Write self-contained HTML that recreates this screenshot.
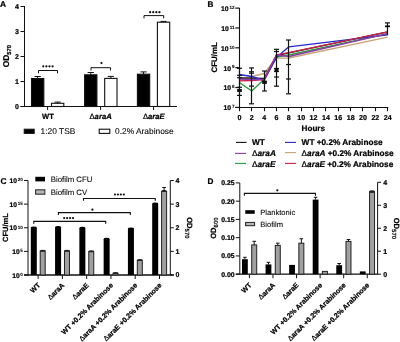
<!DOCTYPE html>
<html><head><meta charset="utf-8"><style>
html,body{margin:0;padding:0;background:#fff;}
svg{display:block;font-family:"Liberation Sans", sans-serif;-webkit-font-smoothing:antialiased;opacity:0.999;will-change:transform;}
text{text-rendering:geometricPrecision;stroke:#000;stroke-width:0.22px;}
text[font-weight="normal"]{stroke-width:0.08px;}
</style></head><body>
<svg width="400" height="342" viewBox="0 0 400 342" font-family='"Liberation Sans", sans-serif' fill="#000">
<rect width="400" height="342" fill="#fff"/>
<text x="0" y="7.2" font-size="8.4" font-weight="bold" font-style="normal" text-anchor="start" >A</text>
<line x1="24.5" y1="6" x2="24.5" y2="107.0" stroke="#111" stroke-width="1"/>
<line x1="20.5" y1="106.5" x2="24.5" y2="106.5" stroke="#111" stroke-width="1"/>
<text x="18.9" y="109.0" font-size="7" font-weight="bold" font-style="normal" text-anchor="end" >0</text>
<line x1="20.5" y1="81.5" x2="24.5" y2="81.5" stroke="#111" stroke-width="1"/>
<text x="18.9" y="84.0" font-size="7" font-weight="bold" font-style="normal" text-anchor="end" >1</text>
<line x1="20.5" y1="56.5" x2="24.5" y2="56.5" stroke="#111" stroke-width="1"/>
<text x="18.9" y="59.0" font-size="7" font-weight="bold" font-style="normal" text-anchor="end" >2</text>
<line x1="20.5" y1="31.5" x2="24.5" y2="31.5" stroke="#111" stroke-width="1"/>
<text x="18.9" y="34.0" font-size="7" font-weight="bold" font-style="normal" text-anchor="end" >3</text>
<line x1="20.5" y1="6.5" x2="24.5" y2="6.5" stroke="#111" stroke-width="1"/>
<text x="18.9" y="9.0" font-size="7" font-weight="bold" font-style="normal" text-anchor="end" >4</text>
<line x1="20.5" y1="106.5" x2="177" y2="106.5" stroke="#111" stroke-width="1"/>
<line x1="47.6" y1="106.5" x2="47.6" y2="110.0" stroke="#111" stroke-width="1"/>
<line x1="100.6" y1="106.5" x2="100.6" y2="110.0" stroke="#111" stroke-width="1"/>
<line x1="153.6" y1="106.5" x2="153.6" y2="110.0" stroke="#111" stroke-width="1"/>
<rect x="31.5" y="78.5" width="12.3" height="28.0" fill="#000" stroke="#111" stroke-width="1.1"/>
<line x1="37.65" y1="76.5" x2="37.65" y2="78.5" stroke="#111" stroke-width="1"/>
<line x1="34.55" y1="76.5" x2="40.75" y2="76.5" stroke="#111" stroke-width="1"/>
<rect x="51.5" y="103.3" width="12.3" height="3.200000000000003" fill="#fff" stroke="#111" stroke-width="1.1"/>
<line x1="57.65" y1="102.1" x2="57.65" y2="103.3" stroke="#111" stroke-width="1"/>
<line x1="54.55" y1="102.1" x2="60.75" y2="102.1" stroke="#111" stroke-width="1"/>
<rect x="84.6" y="74.8" width="12.3" height="31.700000000000003" fill="#000" stroke="#111" stroke-width="1.1"/>
<line x1="90.75" y1="72.5" x2="90.75" y2="74.8" stroke="#111" stroke-width="1"/>
<line x1="87.65" y1="72.5" x2="93.85" y2="72.5" stroke="#111" stroke-width="1"/>
<rect x="104.7" y="78.4" width="12.3" height="28.099999999999994" fill="#fff" stroke="#111" stroke-width="1.1"/>
<line x1="110.85000000000001" y1="76.4" x2="110.85000000000001" y2="78.4" stroke="#111" stroke-width="1"/>
<line x1="107.75000000000001" y1="76.4" x2="113.95" y2="76.4" stroke="#111" stroke-width="1"/>
<rect x="137.4" y="74.2" width="12.3" height="32.3" fill="#000" stroke="#111" stroke-width="1.1"/>
<line x1="143.55" y1="71.9" x2="143.55" y2="74.2" stroke="#111" stroke-width="1"/>
<line x1="140.45000000000002" y1="71.9" x2="146.65" y2="71.9" stroke="#111" stroke-width="1"/>
<rect x="157.4" y="22.2" width="12.3" height="84.3" fill="#fff" stroke="#111" stroke-width="1.1"/>
<line x1="163.55" y1="21.4" x2="163.55" y2="22.2" stroke="#111" stroke-width="1"/>
<line x1="160.45000000000002" y1="21.4" x2="166.65" y2="21.4" stroke="#111" stroke-width="1"/>
<polyline points="38.5,73.3 38.5,70.5 57.5,70.5 57.5,73.3" fill="none" stroke="#111" stroke-width="1"/>
<polyline points="91.0,70.5 91.0,67.7 110.5,67.7 110.5,70.5" fill="none" stroke="#111" stroke-width="1"/>
<polyline points="144.0,18.4 144.0,15.6 163.7,15.6 163.7,18.4" fill="none" stroke="#111" stroke-width="1"/>
<circle cx="43.30" cy="66.3" r="1.12" fill="#111"/>
<circle cx="46.40" cy="66.3" r="1.12" fill="#111"/>
<circle cx="49.50" cy="66.3" r="1.12" fill="#111"/>
<circle cx="52.60" cy="66.3" r="1.12" fill="#111"/>
<circle cx="101.50" cy="63.1" r="1.12" fill="#111"/>
<circle cx="150.15" cy="12.2" r="1.12" fill="#111"/>
<circle cx="153.25" cy="12.2" r="1.12" fill="#111"/>
<circle cx="156.35" cy="12.2" r="1.12" fill="#111"/>
<circle cx="159.45" cy="12.2" r="1.12" fill="#111"/>
<text x="47.9" y="119.1" font-size="7.5" font-weight="bold" font-style="normal" text-anchor="middle" >WT</text>
<text x="100.6" y="119.4" font-size="7.7" font-weight="bold" font-style="normal" text-anchor="middle" ><tspan font-weight="normal">&#916;</tspan><tspan font-style="italic">araA</tspan></text>
<text x="153.8" y="119.4" font-size="7.7" font-weight="bold" font-style="normal" text-anchor="middle" ><tspan font-weight="normal">&#916;</tspan><tspan font-style="italic">araE</tspan></text>
<text transform="translate(8.6,67.2) rotate(-90)" font-size="8.4" font-weight="bold">OD<tspan font-size="5.8" dy="2.2">570</tspan></text>
<rect x="24.2" y="129.2" width="10" height="4.2" fill="#000" stroke="#111" stroke-width="1"/>
<text x="40.6" y="134.4" font-size="8.4" font-weight="normal" font-style="normal" text-anchor="start" >1:20 TSB</text>
<rect x="99.2" y="129.2" width="10.6" height="4.2" fill="#fff" stroke="#111" stroke-width="1.1"/>
<text x="115.0" y="134.4" font-size="8.4" font-weight="normal" font-style="normal" text-anchor="start" >0.2% Arabinose</text>
<text x="207.5" y="7.1" font-size="8.2" font-weight="bold" font-style="normal" text-anchor="start" >B</text>
<line x1="239.5" y1="8" x2="239.5" y2="108.0" stroke="#111" stroke-width="1.1"/>
<line x1="235.3" y1="107.4" x2="239.5" y2="107.4" stroke="#111" stroke-width="1.2"/>
<text x="234.6" y="110.30" font-size="6.8" font-weight="bold" text-anchor="end">10<tspan font-size="4.6" dx="0.9" dy="-2.1" stroke-width="0.05">7</tspan></text>
<line x1="235.3" y1="87.54" x2="239.5" y2="87.54" stroke="#111" stroke-width="1.2"/>
<text x="234.6" y="90.44" font-size="6.8" font-weight="bold" text-anchor="end">10<tspan font-size="4.6" dx="0.9" dy="-2.1" stroke-width="0.05">8</tspan></text>
<line x1="235.3" y1="67.68" x2="239.5" y2="67.68" stroke="#111" stroke-width="1.2"/>
<text x="234.6" y="70.58" font-size="6.8" font-weight="bold" text-anchor="end">10<tspan font-size="4.6" dx="0.9" dy="-2.1" stroke-width="0.05">9</tspan></text>
<line x1="235.3" y1="47.82000000000001" x2="239.5" y2="47.82000000000001" stroke="#111" stroke-width="1.2"/>
<text x="234.6" y="50.72" font-size="6.8" font-weight="bold" text-anchor="end">10<tspan font-size="4.6" dx="0.9" dy="-2.1" stroke-width="0.05">10</tspan></text>
<line x1="235.3" y1="27.960000000000008" x2="239.5" y2="27.960000000000008" stroke="#111" stroke-width="1.2"/>
<text x="234.6" y="30.86" font-size="6.8" font-weight="bold" text-anchor="end">10<tspan font-size="4.6" dx="0.9" dy="-2.1" stroke-width="0.05">11</tspan></text>
<line x1="235.3" y1="8.100000000000009" x2="239.5" y2="8.100000000000009" stroke="#111" stroke-width="1.2"/>
<text x="234.6" y="11.00" font-size="6.8" font-weight="bold" text-anchor="end">10<tspan font-size="4.6" dx="0.9" dy="-2.1" stroke-width="0.05">12</tspan></text>
<line x1="235.3" y1="107.5" x2="388.3" y2="107.5" stroke="#111" stroke-width="1.2"/>
<line x1="239.5" y1="107.5" x2="239.5" y2="111.2" stroke="#111" stroke-width="1.1"/>
<text x="239.4" y="119.6" font-size="7.1" font-weight="bold" font-style="normal" text-anchor="middle" >0</text>
<line x1="251.5" y1="107.5" x2="251.5" y2="111.2" stroke="#111" stroke-width="1.1"/>
<text x="251.76" y="119.6" font-size="7.1" font-weight="bold" font-style="normal" text-anchor="middle" >2</text>
<line x1="264.5" y1="107.5" x2="264.5" y2="111.2" stroke="#111" stroke-width="1.1"/>
<text x="264.12" y="119.6" font-size="7.1" font-weight="bold" font-style="normal" text-anchor="middle" >4</text>
<line x1="276.5" y1="107.5" x2="276.5" y2="111.2" stroke="#111" stroke-width="1.1"/>
<text x="276.48" y="119.6" font-size="7.1" font-weight="bold" font-style="normal" text-anchor="middle" >6</text>
<line x1="288.5" y1="107.5" x2="288.5" y2="111.2" stroke="#111" stroke-width="1.1"/>
<text x="288.84000000000003" y="119.6" font-size="7.1" font-weight="bold" font-style="normal" text-anchor="middle" >8</text>
<line x1="301.5" y1="107.5" x2="301.5" y2="111.2" stroke="#111" stroke-width="1.1"/>
<text x="301.2" y="119.6" font-size="7.1" font-weight="bold" font-style="normal" text-anchor="middle" >10</text>
<line x1="313.5" y1="107.5" x2="313.5" y2="111.2" stroke="#111" stroke-width="1.1"/>
<text x="313.56" y="119.6" font-size="7.1" font-weight="bold" font-style="normal" text-anchor="middle" >12</text>
<line x1="325.5" y1="107.5" x2="325.5" y2="111.2" stroke="#111" stroke-width="1.1"/>
<text x="325.92" y="119.6" font-size="7.1" font-weight="bold" font-style="normal" text-anchor="middle" >14</text>
<line x1="338.5" y1="107.5" x2="338.5" y2="111.2" stroke="#111" stroke-width="1.1"/>
<text x="338.28" y="119.6" font-size="7.1" font-weight="bold" font-style="normal" text-anchor="middle" >16</text>
<line x1="350.5" y1="107.5" x2="350.5" y2="111.2" stroke="#111" stroke-width="1.1"/>
<text x="350.64" y="119.6" font-size="7.1" font-weight="bold" font-style="normal" text-anchor="middle" >18</text>
<line x1="362.5" y1="107.5" x2="362.5" y2="111.2" stroke="#111" stroke-width="1.1"/>
<text x="363.0" y="119.6" font-size="7.1" font-weight="bold" font-style="normal" text-anchor="middle" >20</text>
<line x1="375.5" y1="107.5" x2="375.5" y2="111.2" stroke="#111" stroke-width="1.1"/>
<text x="375.36" y="119.6" font-size="7.1" font-weight="bold" font-style="normal" text-anchor="middle" >22</text>
<line x1="387.5" y1="107.5" x2="387.5" y2="111.2" stroke="#111" stroke-width="1.1"/>
<text x="387.72" y="119.6" font-size="7.1" font-weight="bold" font-style="normal" text-anchor="middle" >24</text>
<text x="313.3" y="131.3" font-size="8.1" font-weight="bold" font-style="normal" text-anchor="middle" >Hours</text>
<text transform="translate(216.9,72.4) rotate(-90)" font-size="7.9" font-weight="bold">CFU/mL</text>
<polyline points="239.40,80 251.76,76.5 264.12,73.5 276.48,58.2 288.84,58 387.72,37.2" fill="none" stroke="#c8a478" stroke-width="1.35" stroke-linejoin="round"/>
<polyline points="239.40,82.5 251.76,91 264.12,79.2 276.48,57 288.84,55 387.72,33.6" fill="none" stroke="#2a9a3a" stroke-width="1.35" stroke-linejoin="round"/>
<polyline points="239.40,78 251.76,78.2 264.12,78.5 276.48,55.6 288.84,52.8 387.72,31.8" fill="none" stroke="#111" stroke-width="1.35" stroke-linejoin="round"/>
<polyline points="239.40,74.5 251.76,76.5 264.12,80.5 276.48,57.5 288.84,46.8 387.72,34.8" fill="none" stroke="#2828c8" stroke-width="1.35" stroke-linejoin="round"/>
<polyline points="239.40,80.8 251.76,80.5 264.12,79.6 276.48,54.8 288.84,52.6 387.72,31.8" fill="none" stroke="#d0204a" stroke-width="1.35" stroke-linejoin="round"/>
<polyline points="239.40,79 251.76,79.6 264.12,79.2 276.48,55 288.84,56.5 387.72,33.6" fill="none" stroke="#8a3aa8" stroke-width="1.35" stroke-linejoin="round"/>
<line x1="239.5" y1="67.6" x2="239.5" y2="95.5" stroke="#111" stroke-width="1.2"/>
<line x1="237.0" y1="68.3" x2="242.0" y2="68.3" stroke="#111" stroke-width="1.2"/>
<line x1="237.0" y1="75.3" x2="242.0" y2="75.3" stroke="#111" stroke-width="1.2"/>
<line x1="237.0" y1="77.7" x2="242.0" y2="77.7" stroke="#111" stroke-width="1.2"/>
<line x1="237.0" y1="87.3" x2="242.0" y2="87.3" stroke="#111" stroke-width="1.2"/>
<line x1="237.0" y1="89.8" x2="242.0" y2="89.8" stroke="#111" stroke-width="1.2"/>
<line x1="237.0" y1="91.2" x2="242.0" y2="91.2" stroke="#111" stroke-width="1.2"/>
<line x1="237.0" y1="95.4" x2="242.0" y2="95.4" stroke="#111" stroke-width="1.2"/>
<line x1="251.5" y1="68" x2="251.5" y2="104" stroke="#111" stroke-width="1.2"/>
<line x1="249.0" y1="67.9" x2="254.0" y2="67.9" stroke="#111" stroke-width="1.2"/>
<line x1="249.0" y1="71.8" x2="254.0" y2="71.8" stroke="#111" stroke-width="1.2"/>
<line x1="249.0" y1="73.2" x2="254.0" y2="73.2" stroke="#111" stroke-width="1.2"/>
<line x1="249.0" y1="86.1" x2="254.0" y2="86.1" stroke="#111" stroke-width="1.2"/>
<line x1="249.0" y1="103.8" x2="254.0" y2="103.8" stroke="#111" stroke-width="1.2"/>
<line x1="264.5" y1="71" x2="264.5" y2="91" stroke="#111" stroke-width="1.2"/>
<line x1="262.0" y1="71" x2="267.0" y2="71" stroke="#111" stroke-width="1.2"/>
<line x1="262.0" y1="81.5" x2="267.0" y2="81.5" stroke="#111" stroke-width="1.2"/>
<line x1="262.0" y1="83" x2="267.0" y2="83" stroke="#111" stroke-width="1.2"/>
<line x1="262.0" y1="91" x2="267.0" y2="91" stroke="#111" stroke-width="1.2"/>
<line x1="276.5" y1="49.3" x2="276.5" y2="86.2" stroke="#111" stroke-width="1.2"/>
<line x1="274.0" y1="49.3" x2="279.0" y2="49.3" stroke="#111" stroke-width="1.2"/>
<line x1="274.0" y1="51.5" x2="279.0" y2="51.5" stroke="#111" stroke-width="1.2"/>
<line x1="274.0" y1="68.5" x2="279.0" y2="68.5" stroke="#111" stroke-width="1.2"/>
<line x1="274.0" y1="71.5" x2="279.0" y2="71.5" stroke="#111" stroke-width="1.2"/>
<line x1="274.0" y1="77" x2="279.0" y2="77" stroke="#111" stroke-width="1.2"/>
<line x1="274.0" y1="86.2" x2="279.0" y2="86.2" stroke="#111" stroke-width="1.2"/>
<line x1="288.5" y1="40" x2="288.5" y2="93.8" stroke="#111" stroke-width="1.2"/>
<line x1="286.0" y1="40" x2="291.0" y2="40" stroke="#111" stroke-width="1.2"/>
<line x1="286.0" y1="64.5" x2="291.0" y2="64.5" stroke="#111" stroke-width="1.2"/>
<line x1="286.0" y1="79" x2="291.0" y2="79" stroke="#111" stroke-width="1.2"/>
<line x1="286.0" y1="93.8" x2="291.0" y2="93.8" stroke="#111" stroke-width="1.2"/>
<line x1="387.5" y1="22.9" x2="387.5" y2="35" stroke="#111" stroke-width="1.2"/>
<line x1="385.0" y1="22.9" x2="390.0" y2="22.9" stroke="#111" stroke-width="1.2"/>
<line x1="385.0" y1="26.0" x2="390.0" y2="26.0" stroke="#111" stroke-width="1.2"/>
<line x1="385.0" y1="26.6" x2="390.0" y2="26.6" stroke="#111" stroke-width="1.2"/>
<rect x="262.5" y="80.6" width="4" height="3.200000000000003" fill="#111" stroke="none" stroke-width="1"/>
<rect x="237.5" y="89.2" width="4" height="2.3999999999999915" fill="#111" stroke="none" stroke-width="1"/>
<rect x="274.5" y="68.6" width="4" height="3.0" fill="#111" stroke="none" stroke-width="1"/>
<line x1="236" y1="142.4" x2="246.5" y2="142.4" stroke="#111" stroke-width="1.1"/>
<text x="252.0" y="145.3" font-size="8.25" font-weight="bold" font-style="normal" text-anchor="start" >WT</text>
<line x1="235" y1="153.4" x2="246" y2="153.4" stroke="#8a3aa8" stroke-width="1.1"/>
<text x="252.0" y="156.0" font-size="8.25" font-weight="bold" font-style="normal" text-anchor="start" ><tspan font-weight="normal">&#916;</tspan><tspan font-style="italic">araA</tspan></text>
<line x1="235" y1="163.4" x2="246" y2="163.4" stroke="#2a9a3a" stroke-width="1.1"/>
<text x="252.0" y="166.8" font-size="8.25" font-weight="bold" font-style="normal" text-anchor="start" ><tspan font-weight="normal">&#916;</tspan><tspan font-style="italic">araE</tspan></text>
<line x1="285" y1="142.4" x2="296" y2="142.4" stroke="#2828c8" stroke-width="1.1"/>
<text x="301.6" y="145.3" font-size="8.25" font-weight="bold" font-style="normal" text-anchor="start" >WT +0.2% Arabinose</text>
<line x1="285" y1="152.6" x2="296" y2="152.6" stroke="#c8a478" stroke-width="1.1"/>
<text x="301.6" y="156.0" font-size="8.25" font-weight="bold" font-style="normal" text-anchor="start" ><tspan font-weight="normal">&#916;</tspan><tspan font-style="italic">araA</tspan> +0.2% Arabinose</text>
<line x1="285" y1="163.4" x2="296" y2="163.4" stroke="#d0204a" stroke-width="1.1"/>
<text x="301.6" y="166.8" font-size="8.25" font-weight="bold" font-style="normal" text-anchor="start" ><tspan font-weight="normal">&#916;</tspan><tspan font-style="italic">araE</tspan> +0.2% Arabinose</text>
<text x="0.6" y="183.7" font-size="8.4" font-weight="bold" font-style="normal" text-anchor="start" >C</text>
<line x1="28.0" y1="180.5" x2="28.0" y2="275.5" stroke="#111" stroke-width="1"/>
<line x1="170.3" y1="180.5" x2="170.3" y2="275.5" stroke="#111" stroke-width="1"/>
<line x1="24.0" y1="275.0" x2="28.0" y2="275.0" stroke="#111" stroke-width="1"/>
<text x="22.8" y="277.70" font-size="6.7" font-weight="bold" text-anchor="end">10<tspan font-size="4.6" dx="0.6" dy="-1.9" stroke-width="0.05">0</tspan></text>
<line x1="170.3" y1="275.0" x2="173.8" y2="275.0" stroke="#111" stroke-width="1"/>
<text x="175.4" y="277.4" font-size="7" font-weight="bold" font-style="normal" text-anchor="start" >0</text>
<line x1="24.0" y1="251.375" x2="28.0" y2="251.375" stroke="#111" stroke-width="1"/>
<text x="22.8" y="254.07" font-size="6.7" font-weight="bold" text-anchor="end">10<tspan font-size="4.6" dx="0.6" dy="-1.9" stroke-width="0.05">5</tspan></text>
<line x1="170.3" y1="251.375" x2="173.8" y2="251.375" stroke="#111" stroke-width="1"/>
<text x="175.4" y="253.775" font-size="7" font-weight="bold" font-style="normal" text-anchor="start" >1</text>
<line x1="24.0" y1="227.75" x2="28.0" y2="227.75" stroke="#111" stroke-width="1"/>
<text x="22.8" y="230.45" font-size="6.7" font-weight="bold" text-anchor="end">10<tspan font-size="4.6" dx="0.6" dy="-1.9" stroke-width="0.05">10</tspan></text>
<line x1="170.3" y1="227.75" x2="173.8" y2="227.75" stroke="#111" stroke-width="1"/>
<text x="175.4" y="230.15" font-size="7" font-weight="bold" font-style="normal" text-anchor="start" >2</text>
<line x1="24.0" y1="204.125" x2="28.0" y2="204.125" stroke="#111" stroke-width="1"/>
<text x="22.8" y="206.82" font-size="6.7" font-weight="bold" text-anchor="end">10<tspan font-size="4.6" dx="0.6" dy="-1.9" stroke-width="0.05">15</tspan></text>
<line x1="170.3" y1="204.125" x2="173.8" y2="204.125" stroke="#111" stroke-width="1"/>
<text x="175.4" y="206.525" font-size="7" font-weight="bold" font-style="normal" text-anchor="start" >3</text>
<line x1="24.0" y1="180.5" x2="28.0" y2="180.5" stroke="#111" stroke-width="1"/>
<text x="22.8" y="183.20" font-size="6.7" font-weight="bold" text-anchor="end">10<tspan font-size="4.6" dx="0.6" dy="-1.9" stroke-width="0.05">20</tspan></text>
<line x1="170.3" y1="180.5" x2="173.8" y2="180.5" stroke="#111" stroke-width="1"/>
<text x="175.4" y="182.9" font-size="7" font-weight="bold" font-style="normal" text-anchor="start" >4</text>
<line x1="24.0" y1="275.0" x2="173.8" y2="275.0" stroke="#111" stroke-width="1.3"/>
<line x1="38.1" y1="275.0" x2="38.1" y2="279.0" stroke="#111" stroke-width="1"/>
<line x1="62.38" y1="275.0" x2="62.38" y2="279.0" stroke="#111" stroke-width="1"/>
<line x1="86.66" y1="275.0" x2="86.66" y2="279.0" stroke="#111" stroke-width="1"/>
<line x1="110.94" y1="275.0" x2="110.94" y2="279.0" stroke="#111" stroke-width="1"/>
<line x1="135.22" y1="275.0" x2="135.22" y2="279.0" stroke="#111" stroke-width="1"/>
<line x1="159.5" y1="275.0" x2="159.5" y2="279.0" stroke="#111" stroke-width="1"/>
<rect x="30.8" y="227.8" width="6.0" height="47.19999999999999" fill="#000" stroke="none" stroke-width="1"/>
<ellipse cx="33.800000000000004" cy="227.8" rx="3.0" ry="1.2" fill="#000"/>
<rect x="40.2" y="251.0" width="5.0" height="24.0" fill="#a0a0a0" stroke="#222" stroke-width="1"/>
<ellipse cx="42.7" cy="250.7" rx="2.8" ry="1.0" fill="#222"/>
<rect x="55.080000000000005" y="227.2" width="6.0" height="47.80000000000001" fill="#000" stroke="none" stroke-width="1"/>
<ellipse cx="58.080000000000005" cy="227.2" rx="3.0" ry="1.2" fill="#000"/>
<rect x="64.48" y="251.0" width="5.0" height="24.0" fill="#a0a0a0" stroke="#222" stroke-width="1"/>
<ellipse cx="66.98" cy="250.7" rx="2.8" ry="1.0" fill="#222"/>
<rect x="79.36" y="228.0" width="6.0" height="47.0" fill="#000" stroke="none" stroke-width="1"/>
<ellipse cx="82.36" cy="228.0" rx="3.0" ry="1.2" fill="#000"/>
<rect x="88.75999999999999" y="251.6" width="5.0" height="23.400000000000006" fill="#a0a0a0" stroke="#222" stroke-width="1"/>
<ellipse cx="91.25999999999999" cy="251.29999999999998" rx="2.8" ry="1.0" fill="#222"/>
<rect x="103.64" y="239.0" width="6.0" height="36.0" fill="#000" stroke="none" stroke-width="1"/>
<ellipse cx="106.64" cy="239.0" rx="3.0" ry="1.2" fill="#000"/>
<rect x="113.03999999999999" y="273.4" width="5.0" height="1.6000000000000227" fill="#a0a0a0" stroke="#222" stroke-width="1"/>
<ellipse cx="115.53999999999999" cy="273.09999999999997" rx="2.8" ry="1.0" fill="#222"/>
<rect x="127.92" y="228.6" width="6.0" height="46.400000000000006" fill="#000" stroke="none" stroke-width="1"/>
<ellipse cx="130.92" cy="228.6" rx="3.0" ry="1.2" fill="#000"/>
<rect x="137.32" y="260.4" width="5.0" height="14.600000000000023" fill="#a0a0a0" stroke="#222" stroke-width="1"/>
<ellipse cx="139.82" cy="260.09999999999997" rx="2.8" ry="1.0" fill="#222"/>
<rect x="152.2" y="203.8" width="6.0" height="71.19999999999999" fill="#000" stroke="none" stroke-width="1"/>
<ellipse cx="155.2" cy="203.8" rx="3.0" ry="1.2" fill="#000"/>
<rect x="161.6" y="191.4" width="5.0" height="83.6" fill="#a0a0a0" stroke="#222" stroke-width="1"/>
<ellipse cx="164.1" cy="191.1" rx="2.8" ry="1.0" fill="#222"/>
<line x1="164.1" y1="187.5" x2="164.1" y2="191.4" stroke="#111" stroke-width="1"/>
<line x1="162.29999999999998" y1="187.5" x2="165.9" y2="187.5" stroke="#111" stroke-width="1"/>
<polyline points="83.5,200.7 83.5,198.5 155.3,198.5 155.3,200.7" fill="none" stroke="#111" stroke-width="1.1"/>
<polyline points="58.4,215.0 58.4,212.6 130.3,212.6 130.3,215.0" fill="none" stroke="#111" stroke-width="1.1"/>
<polyline points="33.8,223.8 33.8,221.4 105.7,221.4 105.7,223.8" fill="none" stroke="#111" stroke-width="1.1"/>
<circle cx="114.98" cy="194.5" r="1.12" fill="#111"/>
<circle cx="117.93" cy="194.5" r="1.12" fill="#111"/>
<circle cx="120.88" cy="194.5" r="1.12" fill="#111"/>
<circle cx="123.83" cy="194.5" r="1.12" fill="#111"/>
<circle cx="92.40" cy="209.7" r="1.12" fill="#111"/>
<circle cx="64.17" cy="218.1" r="1.12" fill="#111"/>
<circle cx="67.12" cy="218.1" r="1.12" fill="#111"/>
<circle cx="70.08" cy="218.1" r="1.12" fill="#111"/>
<circle cx="73.03" cy="218.1" r="1.12" fill="#111"/>
<rect x="35.3" y="176.8" width="9.7" height="4.6" fill="#000" stroke="none" stroke-width="1"/>
<text x="50.8" y="182.2" font-size="7.8" font-weight="normal" font-style="normal" text-anchor="start" >Biofilm CFU</text>
<rect x="35.6" y="189.8" width="9.3" height="4.4" fill="#b4b4b4" stroke="#222" stroke-width="1"/>
<text x="50.8" y="195.1" font-size="7.8" font-weight="normal" font-style="normal" text-anchor="start" >Biofilm CV</text>
<text transform="translate(7.5,242) rotate(-90)" font-size="7.5" font-weight="bold">CFU/mL</text>
<text transform="translate(186.8,217.2) rotate(90)" font-size="7.6" font-weight="bold">OD<tspan font-size="6.0" dy="2.1" stroke-width="0.1">570</tspan></text>
<text transform="translate(40.7,285.8) rotate(-45)" font-size="7.1" font-weight="bold" text-anchor="end">WT</text>
<text transform="translate(64.98,285.8) rotate(-45)" font-size="7.1" font-weight="bold" text-anchor="end"><tspan font-weight="normal">&#916;</tspan>araA</text>
<text transform="translate(89.25999999999999,285.8) rotate(-45)" font-size="7.1" font-weight="bold" text-anchor="end"><tspan font-weight="normal">&#916;</tspan>araE</text>
<text transform="translate(113.53999999999999,285.8) rotate(-45)" font-size="7.1" font-weight="bold" text-anchor="end">WT +0.2% Arabinose</text>
<text transform="translate(137.82,285.8) rotate(-45)" font-size="7.1" font-weight="bold" text-anchor="end"><tspan font-weight="normal">&#916;</tspan>araA +0.2% Arabinose</text>
<text transform="translate(162.1,285.8) rotate(-45)" font-size="7.1" font-weight="bold" text-anchor="end"><tspan font-weight="normal">&#916;</tspan>araE +0.2% Arabinose</text>
<text x="207.4" y="183.7" font-size="8.2" font-weight="bold" font-style="normal" text-anchor="start" >D</text>
<line x1="239.8" y1="182.9" x2="239.8" y2="274.7" stroke="#111" stroke-width="1"/>
<line x1="377.6" y1="182.3" x2="377.6" y2="274.7" stroke="#111" stroke-width="1"/>
<line x1="235.8" y1="274.2" x2="239.8" y2="274.2" stroke="#111" stroke-width="1"/>
<text x="234.60000000000002" y="276.7" font-size="6.85" font-weight="bold" font-style="normal" text-anchor="end" >0.00</text>
<line x1="235.8" y1="255.94" x2="239.8" y2="255.94" stroke="#111" stroke-width="1"/>
<text x="234.60000000000002" y="258.44" font-size="6.85" font-weight="bold" font-style="normal" text-anchor="end" >0.05</text>
<line x1="235.8" y1="237.68" x2="239.8" y2="237.68" stroke="#111" stroke-width="1"/>
<text x="234.60000000000002" y="240.18" font-size="6.85" font-weight="bold" font-style="normal" text-anchor="end" >0.10</text>
<line x1="235.8" y1="219.42" x2="239.8" y2="219.42" stroke="#111" stroke-width="1"/>
<text x="234.60000000000002" y="221.92" font-size="6.85" font-weight="bold" font-style="normal" text-anchor="end" >0.15</text>
<line x1="235.8" y1="201.16" x2="239.8" y2="201.16" stroke="#111" stroke-width="1"/>
<text x="234.60000000000002" y="203.66" font-size="6.85" font-weight="bold" font-style="normal" text-anchor="end" >0.20</text>
<line x1="235.8" y1="182.9" x2="239.8" y2="182.9" stroke="#111" stroke-width="1"/>
<text x="234.60000000000002" y="185.4" font-size="6.85" font-weight="bold" font-style="normal" text-anchor="end" >0.25</text>
<line x1="377.6" y1="274.2" x2="381.0" y2="274.2" stroke="#111" stroke-width="1"/>
<text x="383.3" y="276.7" font-size="7" font-weight="bold" font-style="normal" text-anchor="start" >0</text>
<line x1="377.6" y1="251.225" x2="381.0" y2="251.225" stroke="#111" stroke-width="1"/>
<text x="383.3" y="253.725" font-size="7" font-weight="bold" font-style="normal" text-anchor="start" >1</text>
<line x1="377.6" y1="228.25" x2="381.0" y2="228.25" stroke="#111" stroke-width="1"/>
<text x="383.3" y="230.75" font-size="7" font-weight="bold" font-style="normal" text-anchor="start" >2</text>
<line x1="377.6" y1="205.275" x2="381.0" y2="205.275" stroke="#111" stroke-width="1"/>
<text x="383.3" y="207.775" font-size="7" font-weight="bold" font-style="normal" text-anchor="start" >3</text>
<line x1="377.6" y1="182.3" x2="381.0" y2="182.3" stroke="#111" stroke-width="1"/>
<text x="383.3" y="184.8" font-size="7" font-weight="bold" font-style="normal" text-anchor="start" >4</text>
<line x1="235.8" y1="274.2" x2="377.6" y2="274.2" stroke="#111" stroke-width="1.3"/>
<line x1="249.4" y1="274.2" x2="249.4" y2="278.2" stroke="#111" stroke-width="1"/>
<line x1="272.97" y1="274.2" x2="272.97" y2="278.2" stroke="#111" stroke-width="1"/>
<line x1="296.54" y1="274.2" x2="296.54" y2="278.2" stroke="#111" stroke-width="1"/>
<line x1="320.11" y1="274.2" x2="320.11" y2="278.2" stroke="#111" stroke-width="1"/>
<line x1="343.68" y1="274.2" x2="343.68" y2="278.2" stroke="#111" stroke-width="1"/>
<line x1="367.25" y1="274.2" x2="367.25" y2="278.2" stroke="#111" stroke-width="1"/>
<rect x="242.0" y="259.2" width="5.8" height="15.0" fill="#000" stroke="none" stroke-width="1"/>
<rect x="251.70000000000002" y="244.9" width="5.0" height="29.299999999999983" fill="#a0a0a0" stroke="#222" stroke-width="1"/>
<line x1="244.9" y1="257.3" x2="244.9" y2="259.2" stroke="#111" stroke-width="1"/>
<line x1="243.1" y1="257.3" x2="246.70000000000002" y2="257.3" stroke="#111" stroke-width="1"/>
<line x1="254.20000000000002" y1="241.3" x2="254.20000000000002" y2="244.9" stroke="#111" stroke-width="1"/>
<line x1="252.4" y1="241.3" x2="256.0" y2="241.3" stroke="#111" stroke-width="1"/>
<rect x="265.57000000000005" y="264.4" width="5.8" height="9.800000000000011" fill="#000" stroke="none" stroke-width="1"/>
<rect x="275.27000000000004" y="245.4" width="5.0" height="28.799999999999983" fill="#a0a0a0" stroke="#222" stroke-width="1"/>
<line x1="268.47" y1="262.3" x2="268.47" y2="264.4" stroke="#111" stroke-width="1"/>
<line x1="266.67" y1="262.3" x2="270.27000000000004" y2="262.3" stroke="#111" stroke-width="1"/>
<line x1="277.77000000000004" y1="243.2" x2="277.77000000000004" y2="245.4" stroke="#111" stroke-width="1"/>
<line x1="275.97" y1="243.2" x2="279.57000000000005" y2="243.2" stroke="#111" stroke-width="1"/>
<rect x="289.14000000000004" y="264.9" width="5.8" height="9.300000000000011" fill="#000" stroke="none" stroke-width="1"/>
<rect x="298.84000000000003" y="243.2" width="5.0" height="31.0" fill="#a0a0a0" stroke="#222" stroke-width="1"/>
<line x1="301.34000000000003" y1="238.8" x2="301.34000000000003" y2="243.2" stroke="#111" stroke-width="1"/>
<line x1="299.54" y1="238.8" x2="303.14000000000004" y2="238.8" stroke="#111" stroke-width="1"/>
<rect x="312.71000000000004" y="199.6" width="5.8" height="74.6" fill="#000" stroke="none" stroke-width="1"/>
<rect x="322.41" y="271.4" width="5.0" height="2.8000000000000114" fill="#a0a0a0" stroke="#222" stroke-width="1"/>
<line x1="315.61" y1="197.3" x2="315.61" y2="199.6" stroke="#111" stroke-width="1"/>
<line x1="313.81" y1="197.3" x2="317.41" y2="197.3" stroke="#111" stroke-width="1"/>
<rect x="336.28000000000003" y="265.2" width="5.8" height="9.0" fill="#000" stroke="none" stroke-width="1"/>
<rect x="345.98" y="241.4" width="5.0" height="32.79999999999998" fill="#a0a0a0" stroke="#222" stroke-width="1"/>
<line x1="339.18" y1="263.5" x2="339.18" y2="265.2" stroke="#111" stroke-width="1"/>
<line x1="337.38" y1="263.5" x2="340.98" y2="263.5" stroke="#111" stroke-width="1"/>
<line x1="348.48" y1="239.5" x2="348.48" y2="241.4" stroke="#111" stroke-width="1"/>
<line x1="346.68" y1="239.5" x2="350.28000000000003" y2="239.5" stroke="#111" stroke-width="1"/>
<rect x="359.85" y="271.4" width="5.8" height="2.8000000000000114" fill="#000" stroke="none" stroke-width="1"/>
<rect x="369.55" y="191.8" width="5.0" height="82.39999999999998" fill="#a0a0a0" stroke="#222" stroke-width="1"/>
<ellipse cx="372.05" cy="191.6" rx="2.9" ry="1.3" fill="#222"/>
<polyline points="244.4,195.70000000000002 244.4,193.4 315.5,193.4 315.5,195.70000000000002" fill="none" stroke="#111" stroke-width="1.1"/>
<circle cx="277.30" cy="190.3" r="1.12" fill="#111"/>
<rect x="245.3" y="210.2" width="9.4" height="3.6" fill="#000" stroke="none" stroke-width="1"/>
<text x="260.2" y="214.6" font-size="7.6" font-weight="normal" font-style="normal" text-anchor="start" >Planktonic</text>
<rect x="245.6" y="222.4" width="9" height="3.3" fill="#b4b4b4" stroke="#222" stroke-width="1"/>
<text x="260.2" y="227.0" font-size="7.6" font-weight="normal" font-style="normal" text-anchor="start" >Biofilm</text>
<text transform="translate(215.7,238.8) rotate(-90)" font-size="7.6" font-weight="bold">OD<tspan font-size="6.0" dy="2.1" stroke-width="0.1">600</tspan></text>
<text transform="translate(394.4,217.7) rotate(90)" font-size="7.6" font-weight="bold">OD<tspan font-size="6.0" dy="2.1" stroke-width="0.1">570</tspan></text>
<text transform="translate(252.0,285.6) rotate(-45)" font-size="7.1" font-weight="bold" text-anchor="end">WT</text>
<text transform="translate(275.57000000000005,285.6) rotate(-45)" font-size="7.1" font-weight="bold" text-anchor="end"><tspan font-weight="normal">&#916;</tspan>araA</text>
<text transform="translate(299.14000000000004,285.6) rotate(-45)" font-size="7.1" font-weight="bold" text-anchor="end"><tspan font-weight="normal">&#916;</tspan>araE</text>
<text transform="translate(322.71000000000004,285.6) rotate(-45)" font-size="7.1" font-weight="bold" text-anchor="end">WT +0.2% Arabinose</text>
<text transform="translate(346.28000000000003,285.6) rotate(-45)" font-size="7.1" font-weight="bold" text-anchor="end"><tspan font-weight="normal">&#916;</tspan>araA +0.2% Arabinose</text>
<text transform="translate(369.85,285.6) rotate(-45)" font-size="7.1" font-weight="bold" text-anchor="end"><tspan font-weight="normal">&#916;</tspan>araE +0.2% Arabinose</text>
</svg></body></html>
